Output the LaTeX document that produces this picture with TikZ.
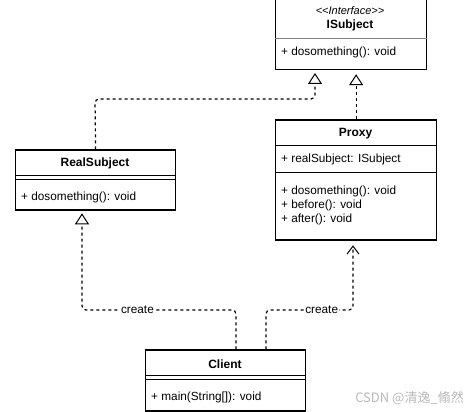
\documentclass[tikz,border=0pt]{standalone}
\usepackage{fontspec}
\setmainfont{Liberation Sans}
\newfontfamily\cjk{Noto Sans CJK SC}
\usetikzlibrary{arrows.meta}

\begin{document}
\begin{tikzpicture}[
    x=1pt, y=-1pt,
    umlbox/.style={draw, line width=1.2pt, rectangle, inner sep=0pt, anchor=north west},
    member/.style={anchor=west, inner sep=0pt, font=\fontsize{11.8}{14}\selectfont},
    title/.style={inner sep=0pt, font=\fontsize{12}{14}\selectfont\bfseries},
    divider/.style={line width=0.9pt},
    realize/.style={line width=1.2pt, dash pattern=on 3pt off 3pt, rounded corners=4pt,
        shorten >=4pt, -{Triangle[open, length=11pt, width=14pt, line width=1pt]}},
    depend/.style={line width=1.2pt, dash pattern=on 3pt off 3pt, rounded corners=4pt,
        shorten >=6pt, -{Straight Barb[length=8pt, width=12pt, line width=1pt]}},
    lbl/.style={fill=white, inner sep=1pt, font=\fontsize{11.8}{14}\selectfont}
]
\useasboundingbox (0,0) rectangle (474,412);

% ISubject
\node[umlbox, minimum width=150.7pt, minimum height=71pt] (isub) at (275,-2) {};
\node[inner sep=0pt, font=\fontsize{11}{13}\selectfont\itshape] (isubst) at (350,11)
    {<\kern0pt<Interface>\kern0pt>};
\node[title] (isubt) at (350,25) {ISubject};
\draw[divider, gray] (isub.west |- 0,38) -- (isub.east |- 0,38);
\node[member] (isubm) at (281,52) {+ dosomething(): void};

% Proxy
\node[umlbox, minimum width=161pt, minimum height=120pt] (proxy) at (275,119.3) {};
\node[title] (proxyt) at (355.5,134) {Proxy};
\draw[divider] (proxy.west |- 0,145) -- (proxy.east |- 0,145);
\node[member] (proxya) at (281,159) {+ realSubject: ISubject};
\draw[divider] (proxy.west |- 0,172.7) -- (proxy.east |- 0,172.7);
\node[member] (proxym1) at (281,191) {+ dosomething(): void};
\node[member] (proxym2) at (281,205) {+ before(): void};
\node[member] (proxym3) at (281,219) {+ after(): void};

% RealSubject
\node[umlbox, minimum width=160pt, minimum height=60pt] (realsub) at (15,149.3) {};
\node[title] (realsubt) at (95,163) {RealSubject};
\draw[divider] (realsub.west |- 0,175.7) -- (realsub.east |- 0,175.7);
\draw[divider] (realsub.west |- 0,179.3) -- (realsub.east |- 0,179.3);
\node[member] (realsubm) at (21,197) {+ dosomething(): void};

% Client
\node[umlbox, minimum width=160pt, minimum height=61pt] (client) at (145,349.3) {};
\node[title] (clientt) at (225,364) {Client};
\draw[divider] (client.west |- 0,375.7) -- (client.east |- 0,375.7);
\draw[divider] (client.west |- 0,379) -- (client.east |- 0,379);
\node[member] (clientm) at (151,397) {+ main(String[]): void};

% Connector ends
\coordinate (isubL) at (315,69);
\coordinate (realsubB) at (82,209.3);
\coordinate (proxyB) at (353,239.3);
\coordinate (clientL) at (236,349.3);
\coordinate (clientR) at (266,349.3);

% Realizations
\draw[realize] (realsub.north) -- (95,99) -- (315,99) -- (isubL);
\draw[realize] (proxy.north) -- (proxy.north |- isub.south);

% Client creates
\draw[realize] (clientL) -- (236,310) -- node[lbl, pos=0.64] {create} (82,310) -- (realsubB);
\draw[depend] (clientR) -- (266,310) -- node[lbl, pos=0.64] {create} (353,310) -- (proxyB);

% Watermark
\node[anchor=east, inner sep=0pt, text=gray!55, font=\cjk\fontsize{13}{15}\selectfont] (mark)
    at (464,398) {CSDN @清逸\_翛然};

\end{tikzpicture}
\end{document}
